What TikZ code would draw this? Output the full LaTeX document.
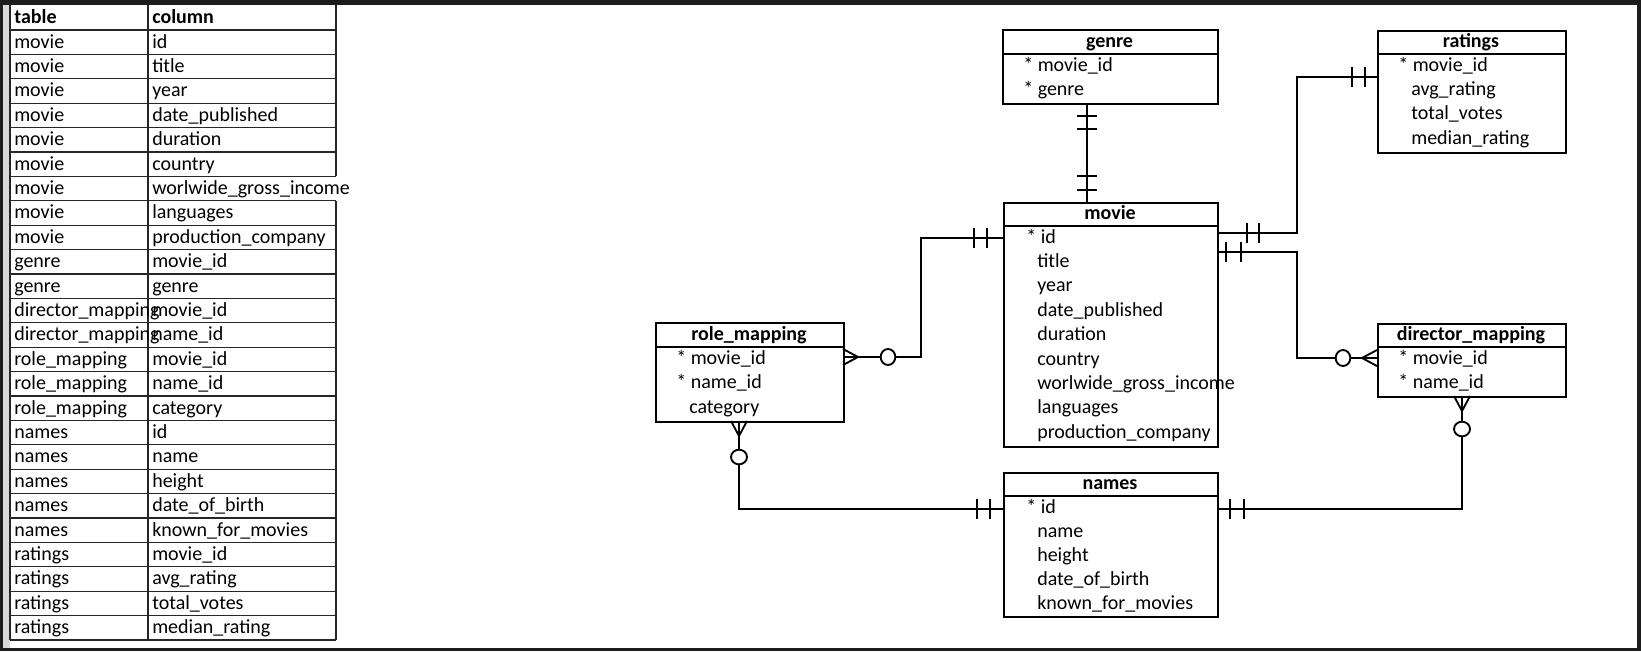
\documentclass[tikz,border=0pt]{standalone}
\usepackage{fontspec}
\setmainfont{Carlito}
\usetikzlibrary{calc}
\definecolor{frame}{HTML}{1C1C1C}
\definecolor{strip}{HTML}{D8D8D8}
\begin{document}
\begin{tikzpicture}[x=0.75pt,y=-0.75pt,
  cell/.style={anchor=base west,inner sep=0pt,font=\fontsize{15}{15}\selectfont},
  hcell/.style={cell,font=\fontsize{15}{15}\selectfont\bfseries},
  ent/.style={draw,line width=1.5pt,anchor=north west,inner sep=0pt,fill=white},
  etitle/.style={anchor=base,inner sep=0pt,font=\fontsize{15}{15}\selectfont\bfseries},
  conn/.style={line width=1.4pt},
  grid/.style={line width=0.9pt,black!85}]
\useasboundingbox (0,0) rectangle (1641,651);
\fill[white] (0,0) rectangle (1641,651);
\fill[strip] (3,5) rectangle (10,651);
\fill[frame] (0,0) rectangle (1641,5);
\fill[frame] (0,0) rectangle (3,651);
\fill[frame] (1637,0) rectangle (1641,651);
\fill[frame] (0,648) rectangle (1641,651);
% ---------- left table ----------
\draw[grid] (10,5) -- (10,640);
\draw[grid] (148,5) -- (148,640);
\draw[grid] (336,5) -- (336,176.4);
\draw[grid] (336,200.8) -- (336,640);
\draw[grid] (10,30) -- (336,30);
\foreach \k in {1,...,25}{\draw[grid] (10,{30+\k*24.4}) -- (336,{30+\k*24.4});}
\node[hcell] (th1) at (14,23) {table};
\node[hcell] (th2) at (152,23) {column};
\foreach [count=\k] \a/\b in {movie/id,movie/title,movie/year,movie/date\_published,movie/duration,movie/country,movie/worlwide\_gross\_income,movie/languages,movie/production\_company,genre/movie\_id,genre/genre,director\_mapping/movie\_id,director\_mapping/name\_id,role\_mapping/movie\_id,role\_mapping/name\_id,role\_mapping/category,names/id,names/name,names/height,names/date\_of\_birth,names/known\_for\_movies,ratings/movie\_id,ratings/avg\_rating,ratings/total\_votes,ratings/median\_rating}{
  \node[cell] (ta\k) at (14,{30+(\k-1)*24.4+18}) {\a};
  \node[cell] (tb\k) at (152,{30+(\k-1)*24.4+18}) {\b};
}
% ---------- entities ----------
\node[ent,minimum width=161.25pt,minimum height=55.5pt] (genre) at (1002,29) {};
\node[ent,minimum width=141pt,minimum height=91.5pt] (ratings) at (1377,30) {};
\node[ent,minimum width=160.5pt,minimum height=183pt] (movie) at (1003,202) {};
\node[ent,minimum width=141pt,minimum height=74.25pt] (role) at (655,322) {};
\node[ent,minimum width=141pt,minimum height=54.75pt] (director) at (1377,323) {};
\node[ent,minimum width=160.5pt,minimum height=108pt] (names) at (1003,472) {};
\draw[line width=1.5pt] (1002,54) -- (1217,54);
\draw[line width=1.5pt] (1377,54) -- (1565,54);
\draw[line width=1.5pt] (1003,226) -- (1217,226);
\draw[line width=1.5pt] (655,347) -- (843,347);
\draw[line width=1.5pt] (1377,347) -- (1565,347);
\draw[line width=1.5pt] (1003,496) -- (1217,496);
\node[etitle] (genreT) at (1109.5,47) {genre};
\node[etitle] (ratingsT) at (1471,47) {ratings};
\node[etitle] (movieT) at (1110,219) {movie};
\node[etitle] (roleT) at (749,340) {role\_mapping};
\node[etitle] (directorT) at (1471,340) {director\_mapping};
\node[etitle] (namesT) at (1110,489) {names};
% rows
\node[cell] (g1) at (1023,71) {* movie\_id};
\node[cell] (g2) at (1023,95) {* genre};
\node[cell] (r1) at (1398,71) {* movie\_id};
\foreach [count=\k] \t in {avg\_rating,total\_votes,median\_rating}
  \node[cell] (r\k x) at (1411,{71+\k*24.4}) {\t};
\node[cell] (m0) at (1026,243) {* id};
\foreach [count=\k] \t in {title,year,date\_published,duration,country,worlwide\_gross\_income,languages,production\_company}
  \node[cell] (m\k) at (1037,{243+\k*24.4}) {\t};
\node[cell] (ro1) at (676,364) {* movie\_id};
\node[cell] (ro2) at (676,388.5) {* name\_id};
\node[cell] (ro3) at (689,413) {category};
\node[cell] (d1) at (1398,364) {* movie\_id};
\node[cell] (d2) at (1398,388.5) {* name\_id};
\node[cell] (n0) at (1026,513) {* id};
\foreach [count=\k] \t in {name,height,date\_of\_birth,known\_for\_movies}
  \node[cell] (n\k) at (1037,{513+\k*24})  {\t};
% ---------- connectors ----------
% genre - movie
\draw[conn] (genre.south -| 1087,0) -- (movie.north -| 1087,0);
\draw[conn] (1077,116) -- (1097,116) (1077,129) -- (1097,129) (1077,176) -- (1097,176) (1077,190) -- (1097,190);
% movie - ratings
\draw[conn] (movie.east |- 0,233) -- (1297,233) -- (1297,77) -- (ratings.west |- 0,77);
\draw[conn] (1247,223) -- (1247,243) (1259,223) -- (1259,243) (1352,67) -- (1352,87) (1365,67) -- (1365,87);
% movie - director
\draw[conn] (movie.east |- 0,252) -- (1297,252) -- (1297,358) -- (director.west |- 0,358);
\draw[conn] (1226,242) -- (1226,262) (1241,242) -- (1241,262);
\draw[conn,fill=white] (1343,358) ellipse [x radius=5.5pt, y radius=6pt];
\draw[conn] (1377,350) -- (1362,358) -- (1377,366);
% movie - role
\draw[conn] (role.east |- 0,357) -- (921,357) -- (921,238) -- (movie.west |- 0,238);
\draw[conn] (974,228) -- (974,248) (987,228) -- (987,248);
\draw[conn,fill=white] (888,357) ellipse [x radius=5.5pt, y radius=6pt];
\draw[conn] (843,349) -- (858,357) -- (843,365);
% role - names
\draw[conn] (role.south -| 739,0) -- (739,509) -- (names.west |- 0,509);
\draw[conn] (977,499) -- (977,519) (990,499) -- (990,519);
\draw[conn,fill=white] (739,457) ellipse [x radius=6pt, y radius=5.5pt];
\draw[conn] (731,421) -- (739,436) -- (747,421);
% director - names
\draw[conn] (director.south -| 1462,0) -- (1462,509) -- (names.east |- 0,509);
\draw[conn] (1230,499) -- (1230,519) (1244,499) -- (1244,519);
\draw[conn,fill=white] (1462,429) ellipse [x radius=6pt, y radius=5.5pt];
\draw[conn] (1454,396) -- (1462,411) -- (1470,396);
\end{tikzpicture}
\end{document}
